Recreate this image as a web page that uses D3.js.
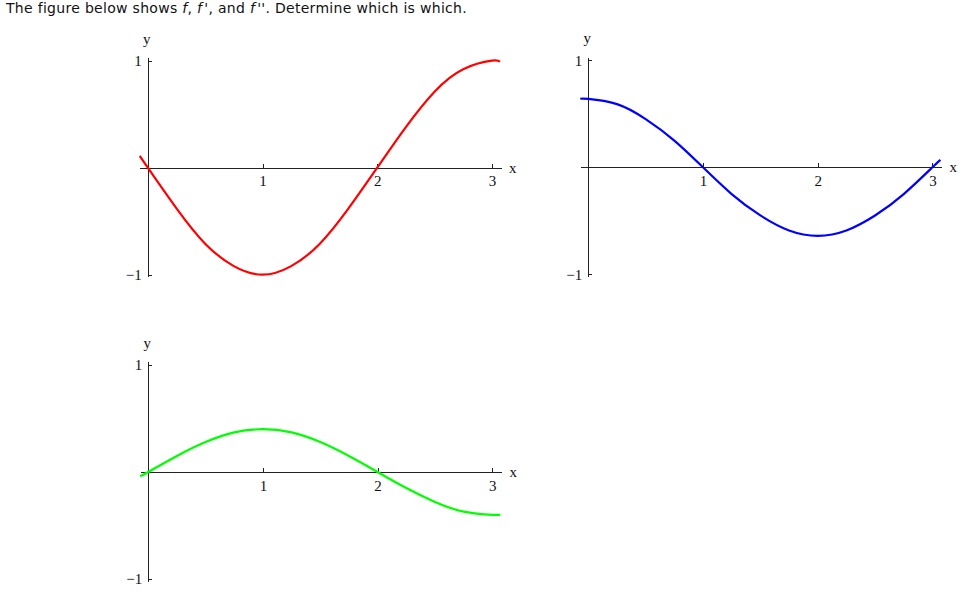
<!DOCTYPE html>
<html>
<head>
<meta charset="utf-8">
<script src="https://cdn.jsdelivr.net/npm/d3@7"></script>
<style>
  body { margin: 0; background: #fff; }
  .title { font-family: "DejaVu Sans", Verdana, sans-serif; font-size: 14px; letter-spacing: 0.3px; fill: #111; }
  .lbl { font-family: "Liberation Serif", "Times New Roman", serif; font-size: 15px; fill: #111; }
  .axis path, .axis line { stroke: #222; stroke-width: 1; shape-rendering: crispEdges; }
  .axis text { font-family: "Liberation Serif", "Times New Roman", serif; font-size: 15px; fill: #111; }
</style>
</head>
<body>
<div id="graph"></div>
<script>
"use strict";

// sample x positions
let xs = [-0.07, 0, 0.25, 0.5, 0.75, 1, 1.25, 1.5, 1.75, 2, 2.25, 2.5, 2.75, 3, 3.07];

// curve values
let redVals   = [0.11, 0, -0.38, -0.71, -0.92, -1, -0.92, -0.71, -0.38, 0, 0.38, 0.71, 0.92, 1, 0.99];
let blueVals  = [0.64, 0.64, 0.59, 0.45, 0.25, 0, -0.25, -0.45, -0.59, -0.64, -0.59, -0.45, -0.25, 0, 0.07];
let greenVals = [-0.04, 0, 0.15, 0.28, 0.37, 0.4, 0.37, 0.28, 0.15, 0, -0.15, -0.28, -0.37, -0.4, -0.4];

let xTicks = [1, 2, 3];
let yTicks = [-1, 1];

let width = 971;
let height = 595;

let unitX = 114.7;
let unitY = 107;

let panels = [
  { x0: 147.8, y0: 167.7, vals: redVals, color: '#ff0000' },
  { x0: 588.3, y0: 167.3, vals: blueVals, color: '#0000ff' },
  { x0: 148.2, y0: 472.0, vals: greenVals, color: '#00ff00' }
];

let svg = d3.select('#graph')
  .append('svg')
  .attr('width', width)
  .attr('height', height);

let title = svg.append('text')
  .attr('class', 'title')
  .attr('x', 6)
  .attr('y', 13);
title.append('tspan').text('The figure below shows ');
title.append('tspan').attr('font-style', 'italic').text('f');
title.append('tspan').text(', ');
title.append('tspan').attr('font-style', 'italic').text('f');
title.append('tspan').attr('dx', 2).text("', and ");
title.append('tspan').attr('font-style', 'italic').text('f');
title.append('tspan').attr('dx', 2).text("''. Determine which is which.");

panels.forEach(p => {
  let x = d3.scaleLinear()
    .domain([0, 3])
    .range([p.x0, p.x0 + 3 * unitX]);
  let y = d3.scaleLinear()
    .domain([-1, 1])
    .range([p.y0 + unitY, p.y0 - unitY]);

  let g = svg.append('g');

  // x axis, a bit past both ends
  let xAx = x.copy().domain([-0.07, 3.08]).range([x(-0.07), x(3.08)]);
  g.append('g')
    .attr('class', 'axis')
    .attr('transform', 'translate(0,' + y(0) + ')')
    .call(d3.axisBottom(xAx).tickValues(xTicks).tickSizeInner(-4).tickSizeOuter(0).tickPadding(8).tickFormat(d3.format('d')));

  // y axis
  let yAx = y.copy().domain([-1.02, 1.03]).range([y(-1.02), y(1.03)]);
  g.append('g')
    .attr('class', 'axis')
    .attr('transform', 'translate(' + x(0) + ',0)')
    .call(d3.axisLeft(yAx).tickValues(yTicks).tickSizeInner(-4).tickSizeOuter(0).tickPadding(6)
      .tickFormat(d => d < 0 ? '\u2212' + Math.abs(d) : d));

  g.selectAll('.axis .domain').attr('fill', 'none');

  g.append('text')
    .attr('class', 'lbl')
    .attr('x', x(0) - 1)
    .attr('y', y(1) - 17)
    .attr('text-anchor', 'middle')
    .text('y');

  g.append('text')
    .attr('class', 'lbl')
    .attr('x', x(3.08) + 8)
    .attr('y', y(0) + 5)
    .text('x');

  let line = d3.line()
    .x(d => x(d[0]))
    .y(d => y(d[1]))
    .curve(d3.curveNatural);

  g.append('path')
    .datum(xs.map((v, i) => [v, p.vals[i]]))
    .attr('fill', 'none')
    .attr('stroke', p.color)
    .attr('stroke-width', 2.2)
    .attr('d', line);
});
</script>
</body>
</html>
